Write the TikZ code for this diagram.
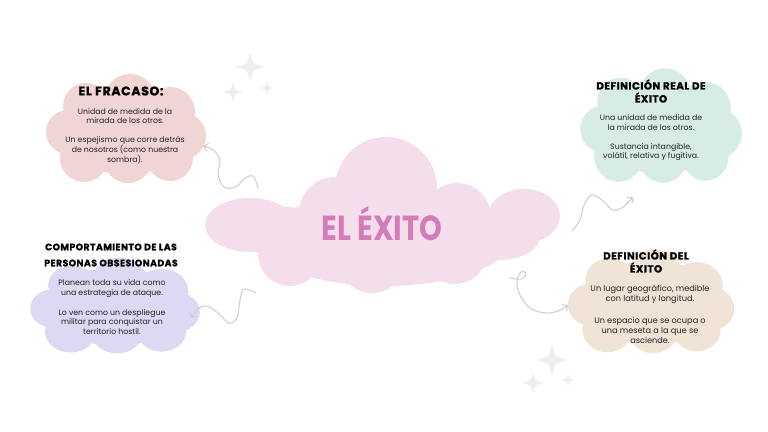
\documentclass[tikz,border=0pt]{standalone}
\usepackage{fontspec}
\usepackage{graphicx}
\setmainfont{Poppins}
\newfontfamily\headfont{Poppins}[LetterSpace=5, BoldFeatures={FakeBold=1.2}]
\usetikzlibrary{arrows.meta}
\definecolor{cpink}{RGB}{240,213,212}
\definecolor{cmint}{RGB}{215,236,226}
\definecolor{clav}{RGB}{221,216,243}
\definecolor{cbeige}{RGB}{240,228,215}
\definecolor{ccenter}{RGB}{245,222,236}
\definecolor{ctitle}{RGB}{212,124,184}
\definecolor{arrowgray}{RGB}{208,208,208}
\definecolor{spark}{RGB}{238,238,238}
\definecolor{bodytext}{RGB}{35,35,35}

\newcommand\smallcloud[5]{%
  \begin{scope}[shift={(#1,#2)},xscale=#3,yscale=#4]
    \fill[#5] (4,-28) circle[radius=26];
    \fill[#5] (-40,-22) circle[radius=23];
    \fill[#5] (44,-16) circle[radius=25];
    \fill[#5] (-58,4) circle[radius=22];
    \fill[#5] (57,8) circle[radius=23];
    \fill[#5] (-42,30) circle[radius=24];
    \fill[#5] (2,31) circle[radius=24];
    \fill[#5] (44,30) circle[radius=23];
    \fill[#5] (0,2) ellipse[x radius=68, y radius=44];
  \end{scope}}

\newcommand\sparkle[3]{%
  \begin{scope}[shift={(#1,#2)},scale=#3]
    \fill[spark] (0,-1) .. controls (0.18,-0.18) .. (1,0)
      .. controls (0.18,0.18) .. (0,1)
      .. controls (-0.18,0.18) .. (-1,0)
      .. controls (-0.18,-0.18) .. (0,-1) -- cycle;
  \end{scope}}

\begin{document}
\begin{tikzpicture}[x=1pt,y=-1pt,
  conn/.style={draw=arrowgray, line width=1.1pt, line cap=round, line join=round,
    -{Straight Barb[length=4pt,width=8pt]}},
  body/.style={align=center, text=bodytext, inner sep=0pt,
    font=\fontsize{7.8}{9.3}\selectfont},
  head/.style={align=center, text=black, inner sep=0pt},
  title/.style={text=ctitle, inner sep=0pt,
    font=\bfseries\fontsize{29}{30}\selectfont}]

\fill[white] (0,0) rectangle (768,431);
\useasboundingbox (0,0) rectangle (768,431);

% central cloud
\fill[ccenter] (386,188) circle[radius=51];
\fill[ccenter] (250,225) ellipse[x radius=45, y radius=27];
\fill[ccenter] (335,213) circle[radius=36];
\fill[ccenter] (457,217) circle[radius=34];
\fill[ccenter] (524,216) ellipse[x radius=36, y radius=27];
\fill[ccenter] (290,254) circle[radius=32];
\fill[ccenter] (372,260) circle[radius=33];
\fill[ccenter] (455,252) circle[radius=32];
\fill[ccenter] (500,236) ellipse[x radius=40, y radius=24];
\fill[ccenter] (285,232) ellipse[x radius=50, y radius=25];
\fill[ccenter] (385,240) ellipse[x radius=125, y radius=46];

% small clouds
\smallcloud{126}{128}{1}{1}{cpink}
\smallcloud{661}{125}{1.01}{1.05}{cmint}
\smallcloud{115}{305}{1.06}{0.88}{clav}
\smallcloud{651}{301}{1.04}{0.95}{cbeige}

% sparkles
\sparkle{250}{67}{15}
\sparkle{233}{92}{10}
\sparkle{267}{88}{7}
\sparkle{552}{360}{16}
\sparkle{533}{383}{11}
\sparkle{568}{380}{7}

% texts
\node[title] (main) at (382,224) {\scalebox{1}[1.2]{EL ÉXITO}};

\node[head, font=\headfont\bfseries\fontsize{12.5}{14}\selectfont] (h1) at (121,91) {EL FRACASO:};
\node[body] (b1) at (125,136) {Unidad de medida de la\\mirada de los otros.\\[9.5pt]Un espejismo que corre detrás\\de nosotros (como nuestra\\sombra).};

\node[head, font=\headfont\bfseries\fontsize{10.3}{13}\selectfont] (h2) at (651,91) {DEFINICIÓN REAL DE\\ÉXITO};
\node[body] (b2) at (651,138) {Una unidad de medida de\\la mirada de los otros.\\[10pt]Sustancia intangible,\\volátil, relativa y fugitiva.};

\node[head, font=\headfont\bfseries\fontsize{9.3}{16}\selectfont] (h3) at (111,255) {COMPORTAMIENTO DE LAS\\PERSONAS OBSESIONADAS};
\node[body] (b3) at (112,307) {Planean toda su vida como\\una estrategia de ataque.\\[11pt]Lo ven como un despliegue\\militar para conquistar un\\territorio hostil.};

\node[head, font=\headfont\bfseries\fontsize{10.3}{13}\selectfont] (h4) at (646,261) {DEFINICIÓN DEL\\ÉXITO};
\node[body, font=\fontsize{8.2}{10}\selectfont] (b4) at (650,314) {Un lugar geográfico, medible\\con latitud y longitud.\\[12pt]Un espacio que se ocupa o\\una meseta a la que se\\asciende.};

% connectors
\coordinate (a1s) at (258,188);
\coordinate (a1e) at (203,146);
\draw[conn] plot[smooth, tension=0.6] coordinates {(a1s) (253,176) (244,179) (236,187) (224,187) (218,174) (220,160) (213,150) (a1e)};

\coordinate (a2s) at (256,293);
\coordinate (a2e) at (191,318);
\draw[conn] plot[smooth, tension=0.6] coordinates {(a2s) (244,289) (240,300) (237,318) (229,323) (218,313) (207,306) (198,309) (a2e)};

\coordinate (a3s) at (572,231);
\coordinate (a3e) at (633,197);
\draw[conn] plot[smooth, tension=0.6] coordinates {(a3s) (580,220) (584,205) (592,195) (603,201) (613,210) (623,207) (a3e)};

\coordinate (a4s) at (510,278);
\coordinate (a4e) at (568,305);
\draw[conn] plot[smooth, tension=0.6] coordinates {(a4s) (522,279) (526,273) (521,272) (517,281) (520,295) (530,308) (545,313) (558,311) (a4e)};

\end{tikzpicture}
\end{document}
